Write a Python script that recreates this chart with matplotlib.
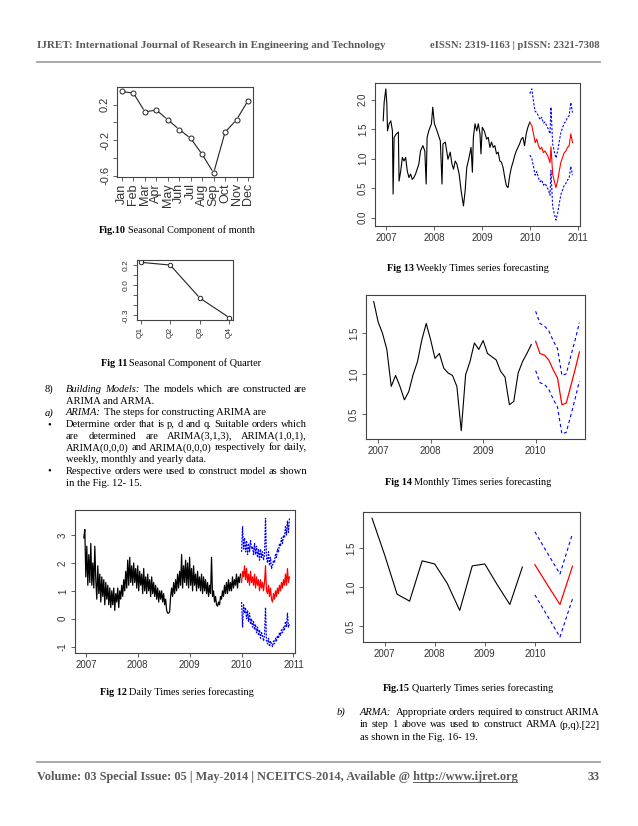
"""
Journal page with seasonal components and ARIMA forecast plots (Fig 10-15).
Output: out.png (638x826)
"""

import matplotlib.pyplot as plt
from matplotlib.lines import Line2D
import numpy as np

W, H = 638, 826
DPI = 100
SERIF = ["Liberation Serif", "DejaVu Serif"]
SANS = ["Liberation Sans", "DejaVu Sans"]
BOX = "#444444"
LBL = "#333333"

# ── data ─────────────────────────────────────────────────────────
months = ["Jan", "Feb", "Mar", "Apr", "May", "Jun",
          "Jul", "Aug", "Sep", "Oct", "Nov", "Dec"]
month_vals = [0.35, 0.33, 0.12, 0.14, 0.03, -0.08,
              -0.18, -0.36, -0.57, -0.11, 0.03, 0.245]

quarters = ["Q1", "Q2", "Q3", "Q4"]
quarter_vals = [0.227, 0.20, -0.127, -0.323]

# daily (plotted at weekly resolution), start 2006.96
daily_start = 2006.96
daily_hist = [
    2.9, 3.2, 1.5, 2.6, 1.2, 2.3, 1.3, 2.7, 1.2, 2.0, 1.1, 2.6, 1.4,
    0.7, 1.9, 0.9, 1.6, 0.6, 1.5, 0.8, 1.4, 0.5, 1.3, 0.7, 1.2, 0.5,
    1.1, 0.4, 1.0, 0.5, 1.1, 0.3, 0.9, 0.6, 1.1, 0.4, 1.0, 0.7, 1.2,
    0.8, 1.4, 1.0, 1.7, 1.1, 2.1, 1.2, 2.2, 1.3, 1.9, 1.2, 2.0, 1.3,
    1.8, 1.1, 1.9, 1.0, 1.7, 1.2, 1.6, 0.9, 1.8, 1.0, 1.5, 0.9, 1.6,
    1.0, 1.4, 0.8, 1.5, 0.9, 1.3, 0.8, 1.2, 0.7, 1.1, 0.6, 1.0, 0.7,
    1.0, 0.6, 0.9, 0.5, 0.7, 0.3, 0.2, 0.2, 0.25, 0.8, 1.1, 0.8, 1.3,
    0.9, 1.4, 1.0, 1.6, 1.1, 1.7, 1.2, 2.3, 1.1, 1.9, 1.3, 2.1, 1.2,
    2.0, 1.1, 2.2, 1.2, 1.8, 1.0, 1.9, 1.2, 1.6, 1.0, 1.7, 1.1, 1.5,
    1.0, 1.6, 0.9, 1.5, 1.0, 1.4, 0.9, 1.3, 0.8, 1.2, 0.9, 2.2, 0.8,
    1.0, 0.6, 0.8, 0.5, 0.45, 0.6, 0.5, 0.8, 0.7, 1.0, 0.8, 1.2, 0.9,
    1.3, 0.9, 1.4, 1.0, 1.3, 1.0, 1.5, 1.1, 1.4, 1.2, 1.6, 1.1, 1.5,
    1.3, 1.6,
]
daily_fc = [
    1.3, 1.7, 1.5, 1.9, 1.4, 1.8, 1.3, 1.6, 1.2, 1.7, 1.3, 1.5, 1.2,
    1.6, 1.1, 1.5, 1.2, 1.4, 1.0, 1.4, 1.1, 1.3, 1.0, 1.3, 1.9, 1.0,
    0.9, 1.2, 0.8, 1.1, 0.7, 0.6, 0.9, 0.7, 1.0, 0.8, 1.1, 0.9, 1.2,
    1.0, 1.3, 1.1, 1.4, 1.2, 1.6, 1.2, 1.8, 1.3, 1.5,
]
daily_up = [
    2.4, 3.3, 2.5, 2.9, 2.4, 2.8, 2.3, 2.7, 2.4, 2.8, 2.5, 2.6, 2.3,
    2.7, 2.3, 2.6, 2.2, 2.5, 2.1, 2.5, 2.2, 2.4, 2.1, 2.3, 3.6, 2.2,
    2.0, 2.4, 1.9, 2.2, 1.8, 1.9, 2.1, 2.0, 2.3, 2.2, 2.5, 2.4, 2.7,
    2.6, 2.9, 2.7, 3.0, 2.9, 3.3, 3.0, 3.5, 3.1, 3.6,
]
daily_lo = [
    0.6, -0.3, 0.5, 0.2, 0.4, 0.0, 0.3, -0.1, 0.2, -0.2, 0.0, -0.3, -0.1,
    -0.4, -0.2, -0.5, -0.3, -0.6, -0.4, -0.7, -0.5, -0.6, -0.8, -0.6, 0.4, -0.8,
    -0.9, -0.7, -1.0, -0.8, -0.9, -1.0, -0.8, -0.9, -0.7, -0.8, -0.6, -0.7, -0.5,
    -0.6, -0.4, -0.5, -0.3, -0.4, -0.1, -0.3, 0.2, -0.3, -0.2,
]

# weekly
wk_years = [
    2006.931, 2006.952, 2006.986, 2007.007, 2007.021, 2007.055, 2007.090, 2007.124, 2007.138, 2007.159,
    2007.207, 2007.248, 2007.262, 2007.297, 2007.331, 2007.366, 2007.400, 2007.434, 2007.469, 2007.503,
    2007.538, 2007.572, 2007.607, 2007.676, 2007.710, 2007.759, 2007.800, 2007.828, 2007.848, 2007.883,
    2007.938, 2007.966, 2008.000, 2008.055, 2008.124, 2008.159, 2008.179, 2008.228, 2008.283, 2008.331,
    2008.366, 2008.400, 2008.434, 2008.469, 2008.517, 2008.559, 2008.607, 2008.641, 2008.676, 2008.724,
    2008.766, 2008.793, 2008.814, 2008.848, 2008.883, 2008.917, 2008.952, 2008.972, 2009.000, 2009.041,
    2009.090, 2009.124, 2009.159, 2009.193, 2009.228, 2009.262, 2009.297, 2009.331, 2009.366, 2009.400,
    2009.434, 2009.469, 2009.503, 2009.538, 2009.572, 2009.607, 2009.641, 2009.676, 2009.710, 2009.745,
    2009.779, 2009.814, 2009.848, 2009.883, 2009.917, 2009.952, 2009.993,
]
wk_vals = [
    1.64, 1.96, 2.18, 1.93, 1.47, 1.59, 1.64, 1.47, 0.40, 1.36,
    1.42, 1.45, 0.62, 0.79, 1.02, 0.96, 1.02, 0.79, 0.68, 0.74,
    0.65, 0.68, 0.74, 0.91, 1.13, 1.22, 1.13, 0.57, 1.36, 1.47,
    1.59, 1.87, 1.59, 1.47, 1.30, 0.57, 1.25, 1.28, 0.99, 1.11,
    0.91, 0.82, 0.96, 0.91, 0.74, 0.45, 0.20, 0.45, 0.85, 1.02,
    1.19, 0.77, 1.36, 1.59, 1.47, 1.59, 1.42, 1.08, 1.53, 1.47,
    1.33, 1.36, 1.19, 1.28, 1.19, 1.22, 1.08, 1.11, 0.96, 0.94,
    0.85, 0.68, 0.54, 0.51, 0.71, 0.85, 0.94, 1.05, 1.13, 1.19,
    1.25, 1.33, 1.36, 1.22, 1.42, 1.53, 1.62,
]
wk_fc_years = [
    2009.993, 2010.034, 2010.076, 2010.103, 2010.138, 2010.172, 2010.207, 2010.241, 2010.276,
    2010.310, 2010.345, 2010.379, 2010.414, 2010.434, 2010.469, 2010.503, 2010.538, 2010.572,
    2010.607, 2010.641, 2010.676, 2010.710, 2010.745, 2010.779, 2010.814, 2010.848, 2010.883,
]
wk_fc = [1.61, 1.56, 1.39, 1.27, 1.33, 1.22, 1.16, 1.19, 1.10, 1.13, 1.08, 1.02, 0.93, 1.20,
         0.74, 0.62, 0.51, 0.62, 0.79, 0.94, 1.02, 1.10, 1.13, 1.19, 1.22, 1.42, 1.27]
wk_up = [2.10, 2.18, 1.93, 1.80, 1.78, 1.72, 1.66, 1.70, 1.60, 1.62, 1.55, 1.50, 1.42, 1.87,
         1.25, 1.12, 1.01, 1.12, 1.29, 1.44, 1.52, 1.60, 1.63, 1.70, 1.73, 1.95, 1.78]
wk_lo = [1.06, 1.00, 0.84, 0.72, 0.78, 0.67, 0.61, 0.64, 0.55, 0.58, 0.53, 0.47, 0.38, 0.80,
         0.19, 0.07, -0.04, 0.07, 0.24, 0.39, 0.47, 0.55, 0.58, 0.64, 0.67, 0.87, 0.72]

# monthly, start Dec 2006
mo_start = 2006.917
mo_hist = [1.89, 1.64, 1.50, 1.30, 0.845, 0.98, 0.845, 0.68, 0.78, 0.99, 1.15, 1.42,
           1.62, 1.42, 1.19, 1.25, 1.07, 1.01, 0.98, 0.845, 0.30, 0.99, 1.15, 1.38,
           1.30, 1.41, 1.25, 1.21, 1.17, 1.03, 0.96, 0.62, 0.66, 1.01, 1.15, 1.25, 1.36]
mo_fc = [1.40, 1.25, 1.23, 1.17, 1.05, 0.95, 0.62, 0.64, 0.845, 1.05, 1.27]
mo_up = [1.77, 1.62, 1.59, 1.53, 1.41, 1.31, 0.98, 1.00, 1.21, 1.41, 1.63]
mo_lo = [1.04, 0.89, 0.87, 0.81, 0.69, 0.59, 0.26, 0.28, 0.48, 0.69, 0.91]

# quarterly, start Q4 2006
q_start = 2006.75
q_hist = [1.89, 1.42, 0.91, 0.82, 1.34, 1.30, 1.05, 0.70, 1.275, 1.30, 1.03, 0.777, 1.26]
q_fc = [1.29, 1.03, 0.777, 1.27]
q_up = [1.715, 1.44, 1.17, 1.69]
q_lo = [0.90, 0.63, 0.357, 0.85]

years_axis = [2007, 2008, 2009, 2010, 2011]

# ── page ─────────────────────────────────────────────────────────
fig = plt.figure(figsize=(W / DPI, H / DPI), dpi=DPI)
fig.patch.set_facecolor("white")
renderer = fig.canvas.get_renderer()


def box(l, t, r, b):
    return fig.add_axes([l / W, 1 - b / H, (r - l) / W, (b - t) / H])


def r_style(ax, fs=7.0):
    for s in ax.spines.values():
        s.set_color(BOX)
        s.set_linewidth(0.8)
    ax.tick_params(length=3, width=0.6, color=BOX, labelsize=fs,
                   labelcolor=LBL, pad=2)
    for lab in ax.get_xticklabels() + ax.get_yticklabels():
        lab.set_family(SANS)


def y_labels(ax, ticks, labels):
    ax.set_yticks(ticks)
    ax.set_yticklabels(labels, rotation=90, va="center")


def type_b(ax, xs, ys, gap=3.2, ms=3.6, color="#222222"):
    """R's type='b': open points, segments stopping short of them."""
    pts = ax.transData.transform(np.column_stack([xs, ys]))
    inv = ax.transData.inverted()
    for p, q in zip(pts[:-1], pts[1:]):
        d = q - p
        n = np.hypot(*d)
        if n <= 2 * gap:
            continue
        a, b = inv.transform([p + d / n * gap, q - d / n * gap])
        ax.plot([a[0], b[0]], [a[1], b[1]], color=color, lw=0.8)
    ax.plot(xs, ys, ls="none", marker="o", ms=ms, mfc="none",
            mec=color, mew=0.7)


def mk(s, st, size, color):
    return fig.text(0, 0, s, fontsize=size, family=SERIF,
                    fontstyle="italic" if "i" in st else "normal",
                    fontweight="bold" if "b" in st else "normal",
                    color=color, va="baseline", ha="left")


def width(t):
    return t.get_window_extent(renderer).width


def width_of(s, st, size):
    t = mk(s, st, size, "black")
    w = width(t)
    t.remove()
    return w


def line(parts, x0, y, size=7.6, color="black", center=None, right=None):
    """Chunks on one baseline with a single space between them."""
    toks = [(txt.strip(), st) for txt, st in parts]
    objs = [mk(s, st, size, color) for s, st in toks]
    ws = [width(t) for t in objs]
    gap = size * DPI / 72 * 0.25
    total = sum(ws) + gap * (len(objs) - 1)
    if center is not None:
        x0 = center - total / 2
    elif right is not None:
        x0 = right - total
    x = x0
    for t, w in zip(objs, ws):
        t.set_position((x / W, 1 - y / H))
        x += w + gap


def justify(text, x0, x1, y, size=7.6, style="n", lead=None):
    """Justified line: natural word offsets plus equal extra per gap.
    lead = (text, style) for a leading run in another style."""
    runs = []
    if lead:
        runs += [(w, lead[1]) for w in lead[0].split()]
    runs += [(w, style) for w in text.split()]
    offs, prev = [], ""
    for i, (w, st) in enumerate(runs):
        pre = " ".join(r[0] for r in runs[:i + 1])
        st_pre = runs[0][1] if all(r[1] == runs[0][1] for r in runs[:i + 1]) else "n"
        offs.append(width_of(pre, st_pre, size) - width_of(w, st_pre, size))
    full = " ".join(r[0] for r in runs)
    nat = width_of(full, "n", size)
    extra = (x1 - x0 - nat) / max(len(runs) - 1, 1)
    for i, (w, st) in enumerate(runs):
        t = mk(w, st, size, "black")
        t.set_position(((x0 + offs[i] + i * extra) / W, 1 - y / H))


def fit(s, x0, x1, y, color, size=8.0):
    """One bold string scaled so that it spans x0..x1."""
    t = mk(s, "b", size, color)
    t.set_fontsize(size * (x1 - x0) / width(t))
    t.set_position((x0 / W, 1 - y / H))
    return t


def hrule(x0, x1, y, color="#999999", lw=1.2):
    fig.add_artist(Line2D([x0 / W, x1 / W], [1 - y / H] * 2,
                          transform=fig.transFigure, color=color, lw=lw))


# header / footer
GRAY_TXT = "#5a5a5a"
fit("IJRET: International Journal of Research in Engineering and Technology",
    37, 385, 48, GRAY_TXT)
fit("eISSN: 2319-1163 | pISSN: 2321-7308", 430, 600, 48, GRAY_TXT)
hrule(37, 600, 62)

hrule(37, 600, 762)
foot_pre = "Volume: 03 Special Issue: 05 | May-2014 | NCEITCS-2014, Available @ "
foot_url = "http://www.ijret.org"
ft = fit(foot_pre + foot_url, 37, 517, 780, GRAY_TXT)
url_w = width_of(foot_url, "b", ft.get_fontsize())
hrule(517 - url_w, 517, 782, color=GRAY_TXT, lw=0.7)
line([("33", "b")], 0, 780, right=600, size=ft.get_fontsize(), color=GRAY_TXT)

# ── Fig 10 ───────────────────────────────────────────────────────
ax = box(117, 87, 253, 177)
mx = np.arange(1, len(months) + 1)
ax.set_xlim(0.56, 12.44)
ax.set_ylim(-0.615, 0.40)
type_b(ax, mx, month_vals)
ax.set_xticks(mx)
ax.set_xticklabels(months, rotation=90)
y_labels(ax, [0.2, 0.0, -0.2, -0.4, -0.6], ["0.2", "", "-0.2", "", "-0.6"])
r_style(ax, fs=8.0)
ax.tick_params(axis="x", labelsize=9.0, pad=1.5)
line([("Fig.10", "b"), ("Seasonal Component of month", "n")], 0, 233,
     size=7.4, center=177)

# ── Fig 11 ───────────────────────────────────────────────────────
ax = box(137, 260, 233, 320)
qx = np.arange(1, len(quarters) + 1)
ax.set_xlim(0.88, 4.12)
ax.set_ylim(-0.345, 0.25)
type_b(ax, qx, quarter_vals, gap=2.8, ms=3.2)
ax.set_xticks(qx)
ax.set_xticklabels(quarters, rotation=90)
y_labels(ax, [0.2, 0.1, 0.0, -0.1, -0.2, -0.3], ["0.2", "", "0.0", "", "", "-0.3"])
r_style(ax, fs=6.0)
line([("Fig 11", "b"), ("Seasonal Component of Quarter", "n")], 0, 366,
     size=7.4, center=181)

# ── body text, left column ───────────────────────────────────────
BS = 7.6
L0, L1, R_EDGE = 45, 66, 307
ys = [392 + 11.7 * i for i in range(9)]
line([("8)", "n")], L0, ys[0], size=BS)
justify("The models which are constructed are", L1, R_EDGE, ys[0],
        size=BS, lead=("Building Models:", "i"))
line([("ARIMA and ARMA.", "n")], L1, ys[1], size=BS)
line([("a)", "i")], L0, ys[2], size=BS)
line([("ARIMA:", "i"), ("The steps for constructing ARIMA are", "n")], L1, ys[2], size=BS)
line([("\u2022", "n")], L0 + 2, ys[3], size=BS)
justify("Determine order that is p, d and q. Suitable orders which",
        L1, R_EDGE, ys[3], size=BS)
justify("are determined are ARIMA(3,1,3), ARIMA(1,0,1),",
        L1, R_EDGE, ys[4], size=BS)
justify("ARIMA(0,0,0) and ARIMA(0,0,0) respectively for daily,",
        L1, R_EDGE, ys[5], size=BS)
line([("weekly, monthly and yearly data.", "n")], L1, ys[6], size=BS)
line([("\u2022", "n")], L0 + 2, ys[7], size=BS)
justify("Respective orders were used to construct model as shown",
        L1, R_EDGE, ys[7], size=BS)
line([("in the Fig. 12- 15.", "n")], L1, ys[8], size=BS)

# ── body text, right column ──────────────────────────────────────
ry = [715 + 12.3 * i for i in range(3)]
line([("b)", "i")], 337, ry[0], size=BS)
justify("Appropriate orders required to construct ARIMA", 360, 600, ry[0],
        size=BS, lead=("ARMA:", "i"))
justify("in step 1 above was used to construct ARMA (p,q).[22]",
        360, 600, ry[1], size=BS)
line([("as shown in the Fig. 16- 19.", "n")], 360, ry[2], size=BS)

# ── Fig 12: daily ────────────────────────────────────────────────
ax = box(75, 510, 295, 653)
dx = daily_start + np.arange(len(daily_hist)) / 52
fx = 2010.0 + np.arange(len(daily_fc)) / 52
ax.plot(dx, daily_hist, color="black", lw=0.9)
ax.plot(fx, daily_up, color="blue", lw=0.9, ls=(0, (1.5, 1)))
ax.plot(fx, daily_lo, color="blue", lw=0.9, ls=(0, (1.5, 1)))
ax.plot(fx, daily_fc, color="red", lw=0.9)
ax.set_xlim(2006.79, 2011.03)
ax.set_ylim(-1.23, 3.9)
ax.set_xticks(years_axis)
y_labels(ax, [-1, 0, 1, 2, 3], ["-1", "0", "1", "2", "3"])
r_style(ax)
line([("Fig 12", "b"), ("Daily Times series forecasting", "n")], 0, 695,
     size=7.4, center=177)

# ── Fig 13: weekly ───────────────────────────────────────────────
ax = box(375, 83, 580, 226)
ax.plot(wk_years, wk_vals, color="black", lw=0.8)
ax.plot(wk_fc_years, wk_up, color="blue", lw=0.8, ls=(0, (2, 1.5)))
ax.plot(wk_fc_years, wk_lo, color="blue", lw=0.8, ls=(0, (2, 1.5)))
ax.plot(wk_fc_years, wk_fc, color="red", lw=0.8)
ax.set_xlim(2006.76, 2011.04)
ax.set_ylim(-0.14, 2.28)
ax.set_xticks(years_axis)
y_labels(ax, [0.0, 0.5, 1.0, 1.5, 2.0], ["0.0", "0.5", "1.0", "1.5", "2.0"])
r_style(ax)
line([("Fig 13", "b"), ("Weekly Times series forecasting", "n")], 0, 271,
     size=7.4, center=468)

# ── Fig 14: monthly ──────────────────────────────────────────────
ax = box(366, 295, 585, 439)
mxh = mo_start + np.arange(len(mo_hist)) / 12
mxf = 2010.0 + np.arange(len(mo_fc)) / 12
ax.plot(mxh, mo_hist, color="black", lw=0.8)
ax.plot(mxf, mo_up, color="blue", lw=0.8, ls=(0, (3, 2.5)))
ax.plot(mxf, mo_lo, color="blue", lw=0.8, ls=(0, (3, 2.5)))
ax.plot(mxf, mo_fc, color="red", lw=0.9)
ax.set_xlim(2006.77, 2010.94)
ax.set_ylim(0.198, 1.97)
ax.set_xticks(years_axis[:4])
y_labels(ax, [0.5, 1.0, 1.5], ["0.5", "1.0", "1.5"])
r_style(ax)
line([("Fig 14", "b"), ("Monthly Times series forecasting", "n")], 0, 485,
     size=7.4, center=468)

# ── Fig 15: quarterly ────────────────────────────────────────────
ax = box(363, 512, 580, 642)
qxh = q_start + np.arange(len(q_hist)) / 4
qxf = 2010.0 + np.arange(len(q_fc)) / 4
ax.plot(qxh, q_hist, color="black", lw=0.8)
ax.plot(qxf, q_up, color="blue", lw=0.8, ls=(0, (3, 2.5)))
ax.plot(qxf, q_lo, color="blue", lw=0.8, ls=(0, (3, 2.5)))
ax.plot(qxf, q_fc, color="red", lw=0.9)
ax.set_xlim(2006.57, 2010.9)
ax.set_ylim(0.293, 1.97)
ax.set_xticks(years_axis[:4])
y_labels(ax, [0.5, 1.0, 1.5], ["0.5", "1.0", "1.5"])
r_style(ax)
line([("Fig.15", "b"), ("Quarterly Times series forecasting", "n")], 0, 691,
     size=7.4, center=468)

fig.savefig("out.png", dpi=DPI, facecolor="white")
plt.close(fig)
